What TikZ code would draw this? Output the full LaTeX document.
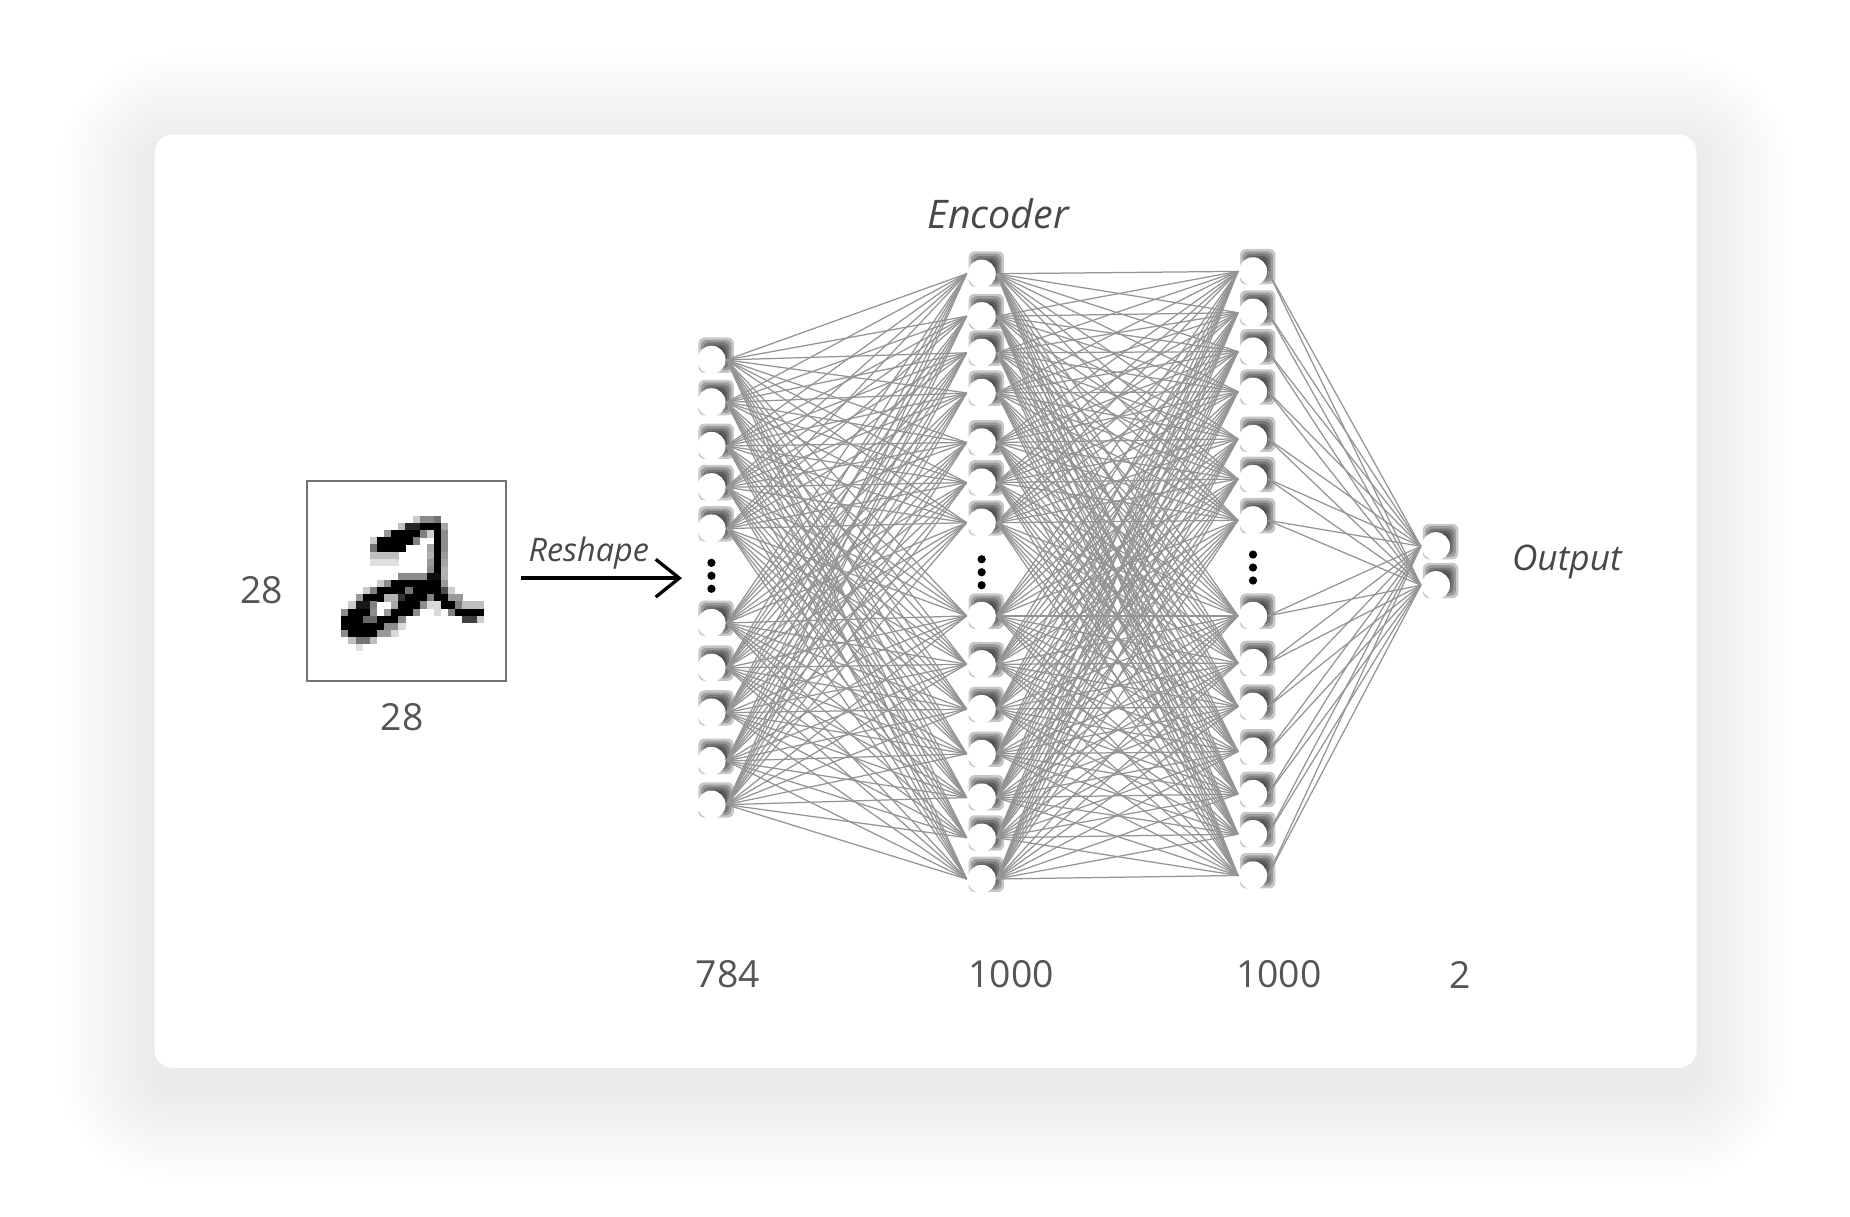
\documentclass[tikz,border=0pt]{standalone}
\usepackage{fontspec}
\setmainfont{Open Sans}
\usetikzlibrary{arrows.meta}
\definecolor{labelgray}{HTML}{555555}
\definecolor{handgray}{HTML}{484848}
\tikzset{
  neuron/.style={circle,fill=white,minimum size=2.4mm,inner sep=0pt},
  blob/.style={fill=black,opacity=.22,rounded corners=.5mm},
  synapse/.style={draw=black!42,line width=.3pt},
  count/.style={text=labelgray,font=\fontsize{9}{11}\selectfont},
  hand/.style={text=handgray,font=\itshape\fontsize{8.5}{10}\selectfont}
}
\begin{document}
\begin{tikzpicture}[x=0.1mm,y=-0.1mm]
\useasboundingbox (0,0) rectangle (1568,1031);
% card and its shadow
\foreach \s in {1,...,20}
  \fill[black,opacity=.005,rounded corners=1.5mm+\s*.4mm] (131-\s*4,126-\s*4) rectangle (1438+\s*4,922+\s*4);
\fill[white,rounded corners=1.5mm] (131,114) rectangle (1438,905);
% input image
\node[draw=black!55,line width=.5pt,minimum size=16.9mm,inner sep=0pt] (img) at (344.5,492.5) {};
\begin{scope}[shift={(img.north west)}]
  \foreach \r/\a/\b/\g in {5/15/15/20, 5/16/17/45, 5/18/18/55,
      6/13/13/25, 6/14/15/85, 6/16/18/100, 6/19/19/35,
      7/11/11/40, 7/12/15/100, 7/16/16/50, 7/17/17/20, 7/18/18/100, 7/19/19/45,
      8/9/9/20, 8/10/14/100, 8/15/15/50, 8/18/18/100, 8/19/19/45,
      9/9/9/55, 9/10/13/100, 9/17/17/35, 9/18/18/100, 9/19/19/45,
      10/9/12/25, 10/17/17/30, 10/18/18/100, 10/19/19/40,
      11/9/12/12, 11/17/17/40, 11/18/18/100, 11/19/19/35,
      12/17/17/45, 12/18/18/100, 12/19/19/30,
      13/13/16/45, 13/17/18/95, 13/19/19/30,
      14/10/10/20, 14/11/11/45, 14/12/18/100, 14/19/19/40,
      15/8/8/20, 15/9/9/50, 15/10/13/100, 15/14/14/55, 15/15/18/100, 15/19/19/70, 15/20/20/20,
      16/7/7/40, 16/8/10/100, 16/11/12/30, 16/13/13/80, 16/14/16/100, 16/17/17/50, 16/18/19/100, 16/20/21/40,
      17/6/6/20, 17/7/8/90, 17/9/9/50, 17/12/12/35, 17/13/15/100, 17/16/16/45, 17/17/18/15, 17/19/20/100,
      17/21/21/50, 17/22/24/25,
      18/5/5/45, 18/6/8/100, 18/9/9/45, 18/11/11/40, 18/12/14/100, 18/15/15/45, 18/18/18/15, 18/20/20/50,
      18/21/24/100,
      19/5/7/100, 19/8/9/60, 19/10/12/100, 19/13/13/45, 19/22/23/75, 19/24/24/20,
      20/5/10/100, 20/11/12/45, 20/13/13/15,
      21/5/5/45, 21/6/9/100, 21/10/11/40, 21/12/12/15,
      22/6/6/25, 22/7/8/55, 22/9/9/25, 23/7/7/12}
    \fill[black!\g] (\a*6.036,\r*6.036) rectangle (\b*6.036+6.2,\r*6.036+6.2);
\end{scope}
\node[count] (inh) at (222,500) {28};
\node[count] (inw) at (341,608) {28};
% reshape arrow
\coordinate (rsa) at (442,490);
\coordinate (rsb) at (578,490);
\draw[line width=.8pt,-{Straight Barb[length=2mm,width=3.2mm]}] (rsa) -- (rsb);
\node[hand,font=\itshape\fontsize{7.8}{9}\selectfont] (rs) at (499,469) {Reshape};
% layers, each neuron with a soft shadow up and to the right
\foreach \x/\n/\ys in {603/a/{305,341,378,413,448,528,566,604,645,682},
    832/b/{232,268,299,333,375,409,443,522,563,601,639,676,710,745},
    1062/c/{230,265,298,332,372,406,441,522,562,599,637,673,707,742},
    1217/d/{463,496}}
  \foreach \y [count=\i] in \ys {
    \foreach \k in {0,...,5}
      \fill[blob] (\x-11+\k*2,\y-19+\k*2) rectangle (\x+19-\k*2,\y+11-\k*2);
    \node[neuron] (\n\i) at (\x,\y) {};
  }
% connections
\foreach \i in {1,...,10}
  \foreach \j in {1,...,14}
    \draw[synapse] (a\i.east) -- (b\j.west);
\foreach \i in {1,...,14}
  \foreach \j in {1,...,14}
    \draw[synapse] (b\i.east) -- (c\j.west);
\foreach \i in {1,...,14}
  \foreach \j in {1,2}
    \draw[synapse] (c\i.east) -- (d\j.west);
% dots
\foreach \x/\y in {603/488,832/485,1062/481}
  \foreach \k in {-11,0,11}
    \fill (\x,\y+\k) circle (3.5);
% labels
\node[hand,font=\itshape\fontsize{9.5}{11}\selectfont] (enc) at (846,181) {Encoder};
\node[hand] (out) at (1328,476) {Output};
\node[count] (n1) at (617,826) {784};
\node[count] (n2) at (857,826) {1000};
\node[count] (n3) at (1084,826) {1000};
\node[count] (n4) at (1238,826) {2};
\end{tikzpicture}
\end{document}
